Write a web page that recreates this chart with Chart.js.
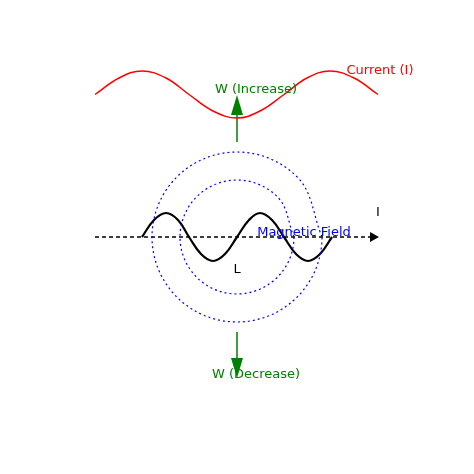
<!DOCTYPE html>
<html>
<head>
<meta charset="utf-8">
<script src="https://cdn.jsdelivr.net/npm/chart.js@4"></script>
<style>body{margin:0;background:#fff}</style>
</head>
<body>
<canvas id="chart" width="474" height="474"></canvas>
<script>
/* DATA (units centred on the circles, y up) */
const currentX = [-142, -118, -95, -71, -48, -24, 0, 23, 47, 70, 93, 117, 141];
const currentY = [142.5, 159, 166, 159, 142.5, 126, 119, 126, 142.5, 159, 166, 159, 142.5];
const waveX = [-95, -83, -71, -59, -48, -36, -24, -12, 0, 12, 23, 35, 47, 59, 71, 83, 95];
const waveY = [0, 17, 24, 17, 0, -17, -24, -17, 0, 17, 24, 17, 0, -17, -24, -17, 0];
const outerX = [85, 60.1, 0, -60.1, -85, -60.1, 0, 60.1, 85, 60.1];
const outerY = [0, 60.1, 85, 60.1, 0, -60.1, -85, -60.1, 0, 60.1];
const innerX = [57, 40.3, 0, -40.3, -57, -40.3, 0, 40.3, 57, 40.3];
const innerY = [0, 40.3, 57, 40.3, 0, -40.3, -57, -40.3, 0, 40.3];
const axisX = [-142, 138];
const axisY = [0, 0];
const arrowUpY = [95, 142];
const arrowDownY = [-95, -141];
const labels = ["Current (I)", "W (Increase)", "Magnetic Field", "I", "L", "W (Decrease)"];
const labelX = [143, 19, 67, 141, 0, 19];
const labelY = [166, 147, 4, 24, -33, -138];
const labelColors = ["red", "green", "blue", "black", "black", "green"];

const pts = (xs, ys) => xs.map((x, i) => ({ x: x, y: ys[i] }));
// hide the overlap segment that only exists to smooth the circle's joint
const hideLast = { borderColor: c => c.p0DataIndex === 8 ? "rgba(0,0,0,0)" : "blue" };

/* ARROWHEADS + TEXT */
const extras = {
  id: "extras",
  afterDatasetsDraw(chart) {
    const c = chart.ctx, sx = chart.scales.x, sy = chart.scales.y;
    function head(x, y, dx, dy, len, w, color) {
      const px = sx.getPixelForValue(x), py = sy.getPixelForValue(y);
      c.fillStyle = color;
      c.beginPath();
      c.moveTo(px, py);
      c.lineTo(px - dx * len - dy * w, py - dy * len + dx * w);
      c.lineTo(px - dx * len + dy * w, py - dy * len - dx * w);
      c.closePath();
      c.fill();
    }
    head(axisX[1] + 4, 0, 1, 0, 9, 5, "black");
    head(0, arrowUpY[1], 0, -1, 20, 6, "green");
    head(0, arrowDownY[1], 0, 1, 20, 6, "green");
    c.font = "13px 'DejaVu Sans'";
    c.textAlign = "center";
    c.textBaseline = "middle";
    labels.forEach((t, i) => {
      c.fillStyle = labelColors[i];
      c.fillText(t, sx.getPixelForValue(labelX[i]), sy.getPixelForValue(labelY[i]));
    });
  }
};

new Chart(document.getElementById("chart"), {
  type: "scatter",
  data: {
    datasets: [
      { data: pts(currentX, currentY), borderColor: "red", borderWidth: 1.5, tension: 0.4 },
      { data: pts(outerX, outerY), borderColor: "blue", borderWidth: 1.2, borderDash: [2, 3], tension: 0.375, segment: hideLast },
      { data: pts(innerX, innerY), borderColor: "blue", borderWidth: 1.2, borderDash: [2, 3], tension: 0.375, segment: hideLast },
      { data: pts(axisX, axisY), borderColor: "black", borderWidth: 1.5, borderDash: [4, 3] },
      { data: pts(waveX, waveY), borderColor: "black", borderWidth: 2.2, tension: 0.4 },
      { data: pts([0, 0], [arrowUpY[0], arrowUpY[1] - 20]), borderColor: "green", borderWidth: 1.5 },
      { data: pts([0, 0], [arrowDownY[0], arrowDownY[1] + 20]), borderColor: "green", borderWidth: 1.5 }
    ].map(d => Object.assign({ showLine: true, pointRadius: 0, fill: false }, d))
  },
  options: {
    responsive: false,
    animation: false,
    layout: { padding: 0 },
    plugins: { legend: { display: false }, tooltip: { enabled: false } },
    scales: {
      x: { type: "linear", min: -237, max: 237, display: false },
      y: { type: "linear", min: -237, max: 237, display: false }
    }
  },
  plugins: [extras]
});
</script>
</body>
</html>
